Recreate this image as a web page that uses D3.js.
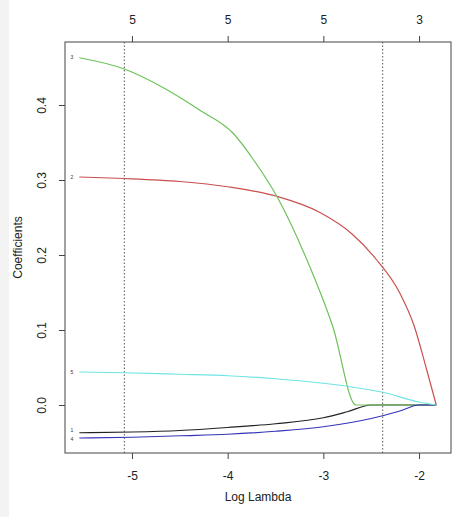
<!DOCTYPE html>
<html><head><meta charset="utf-8">
<script src="https://cdn.jsdelivr.net/npm/d3@7"></script>
<style>body{margin:0;background:#fff}svg{font-family:"Liberation Sans",Arial,sans-serif}</style>
</head><body><svg id="c" width="474" height="517"></svg>
<script>
const xTicks=[-5,-4,-3,-2];
const topLabels=["5","5","5","3"];
const yTicks=[0.0,0.1,0.2,0.3,0.4];
const cvLines=[-5.08,-2.38];
const seriesNames=["1","2","3","4","5"];
const seriesColors=["#222222","#c9504f","#6dc25a","#3434b8","#70e4e4"];
const s1=[[-5.55,-0.037],[-5,-0.036],[-4.5,-0.034],[-4,-0.030],[-3.5,-0.025],[-3,-0.017],[-2.75,-0.009],[-2.5,0],[-1.82,0]];
const s2=[[-5.55,0.304],[-5.08,0.302],[-4.5,0.298],[-4,0.291],[-3.48,0.278],[-3.04,0.257],[-2.7,0.228],[-2.44,0.193],[-2.2,0.149],[-2.05,0.105],[-1.92,0.047],[-1.82,0]];
const s3=[[-5.55,0.463],[-5.08,0.448],[-4.63,0.42],[-4.29,0.393],[-3.94,0.362],[-3.73,0.327],[-3.485,0.278],[-3.17,0.193],[-2.9,0.104],[-2.66,0],[-1.82,0]];
const s4=[[-5.55,-0.044],[-5,-0.043],[-4.5,-0.041],[-4,-0.039],[-3.5,-0.035],[-3,-0.029],[-2.5,-0.018],[-2.2,-0.008],[-2.0,0],[-1.82,0]];
const s5=[[-5.55,0.044],[-5.08,0.043],[-4.5,0.041],[-4,0.039],[-3.5,0.035],[-3,0.029],[-2.6,0.022],[-2.38,0.017],[-2,0.004],[-1.82,0]];
const series=[s1,s2,s3,s4,s5];

const svg=d3.select("#c");
svg.append("rect").attr("x",0).attr("y",0).attr("width",9).attr("height",517).attr("fill","#f3f3f3");
const L=65,R=451,T=42,B=453;
const x=d3.scaleLinear().domain([-5.70,-1.666]).range([L,R]);
const y=d3.scaleLinear().domain([-0.064,0.484]).range([B,T]);
const g=svg.append("g");
const ax=(sel)=>{sel.selectAll("text").attr("font-size",12).attr("fill","#222");sel.selectAll("line").attr("stroke","#444");sel.select(".domain").remove();};
g.append("g").attr("transform",`translate(0,${B})`).call(d3.axisBottom(x).tickValues(xTicks).tickFormat(d=>String(d)).tickSize(6).tickPadding(12)).call(ax);
g.append("g").attr("transform",`translate(0,${T})`).call(d3.axisTop(x).tickValues(xTicks).tickFormat((d,i)=>topLabels[i]).tickSize(6).tickPadding(12)).call(ax);
const ya=g.append("g").attr("transform",`translate(${L},0)`).call(d3.axisLeft(y).tickValues(yTicks).tickFormat(d3.format(".1f")).tickSize(6)).call(ax);
ya.selectAll(".tick text").attr("x",0).attr("dy","0").attr("text-anchor","middle").attr("transform","translate(-19,0) rotate(-90)");
g.append("rect").attr("x",L).attr("y",T).attr("width",R-L).attr("height",B-T).attr("fill","none").attr("stroke","#444").attr("stroke-width",1);
cvLines.forEach(v=>g.append("line").attr("x1",x(v)).attr("x2",x(v)).attr("y1",T).attr("y2",B).attr("stroke","#555").attr("stroke-dasharray","1.5,2"));
const line=d3.line().x(d=>x(d[0])).y(d=>y(d[1])).curve(d3.curveMonotoneX);
series.forEach((s,i)=>{
 g.append("path").attr("d",line(s)).attr("fill","none").attr("stroke",seriesColors[i]).attr("stroke-width",1.2);
 g.append("text").attr("x",x(s[0][0])-6).attr("y",y(s[0][1])+ (i==0?-1:i==3?3:1.5)).attr("font-size",5).attr("text-anchor","end").attr("fill","#333").text(seriesNames[i]);
});
svg.append("text").attr("x",(L+R)/2).attr("y",501).attr("text-anchor","middle").attr("font-size",12).attr("fill","#222").text("Log Lambda");
svg.append("text").attr("transform",`translate(22,${(T+B)/2}) rotate(-90)`).attr("text-anchor","middle").attr("font-size",12).attr("fill","#222").text("Coefficients");
</script></body></html>
